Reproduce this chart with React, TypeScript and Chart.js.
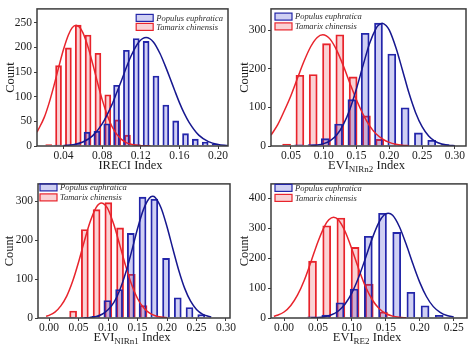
import React, { useEffect, useRef } from "react";
import { Chart, registerables } from "chart.js";

Chart.register(...registerables);

const FONT = "'Liberation Serif', 'Times New Roman', Times, serif";
const seriesNames = ["Populus euphratica", "Tamarix chinensis"];

// ---------- Panel 1: IRECI ----------
const ireciXTicks = [0.04, 0.08, 0.12, 0.16, 0.2];
const ireciYTicks = [0, 50, 100, 150, 200, 250];
const ireciBlueBins = [0.0368, 0.047, 0.0572, 0.0674, 0.0776, 0.0878, 0.098, 0.1082, 0.1184, 0.1286, 0.1388, 0.149, 0.1592, 0.1694, 0.1796, 0.1898, 0.2];
const ireciBlueCounts = [2, 1, 3, 28, 30, 45, 123, 194, 218, 212, 142, 83, 51, 25, 14, 8, 4];
const ireciRedBins = [0.0215, 0.0317, 0.0419, 0.0521, 0.0623, 0.0725, 0.0827, 0.0929, 0.1031, 0.1133];
const ireciRedCounts = [3, 163, 199, 245, 225, 188, 104, 53, 22, 3];
const ireciBlueCurveX = [0.04, 0.05, 0.06, 0.07, 0.08, 0.09, 0.095, 0.1, 0.105, 0.11, 0.118, 0.1255, 0.133, 0.14, 0.145, 0.15, 0.155, 0.16, 0.165, 0.17, 0.18, 0.19, 0.2, 0.21];
const ireciBlueCurveY = [0.8, 2.7, 8.1, 20.6, 44.9, 83.5, 108, 133, 159, 183, 211, 220, 211, 187, 164, 139, 113, 88, 66, 48, 22, 9, 3.1, 0.9];
const ireciRedCurveX = [0.0125, 0.02, 0.025, 0.03, 0.035, 0.04, 0.045, 0.049, 0.053, 0.057, 0.06, 0.065, 0.07, 0.075, 0.08, 0.085, 0.09, 0.095, 0.1, 0.105, 0.11, 0.115, 0.12, 0.13];
const ireciRedCurveY = [28, 58, 87, 122, 160, 196, 225, 240, 245, 240, 230, 203, 168, 130, 94, 64, 40, 24, 13.4, 7, 3.4, 1.6, 0.7, 0.1];

// ---------- Panel 2: EVI NIRn2 ----------
const nirn2XTicks = [0.05, 0.1, 0.15, 0.2, 0.25, 0.3];
const nirn2YTicks = [0, 100, 200, 300];
const nirn2BlueBins = [0.0678, 0.0881, 0.1084, 0.1287, 0.149, 0.1693, 0.1896, 0.2099, 0.2302, 0.2505, 0.2708, 0.2911];
const nirn2BlueCounts = [3, 4, 19, 57, 120, 292, 318, 238, 99, 34, 15, 4];
const nirn2RedBins = [0.0372, 0.0575, 0.0778, 0.0981, 0.1184, 0.1387, 0.159, 0.1793];
const nirn2RedCounts = [5, 183, 185, 265, 288, 179, 78, 17];
const nirn2BlueCurveX = [0.08, 0.09, 0.1, 0.11, 0.12, 0.13, 0.14, 0.15, 0.16, 0.17, 0.18, 0.183, 0.189, 0.195, 0.2, 0.21, 0.22, 0.23, 0.24, 0.25, 0.26, 0.27, 0.28, 0.29, 0.3];
const nirn2BlueCurveY = [0.8, 2.4, 6.1, 14, 29, 56, 96, 149, 209, 266, 305, 312, 318, 312, 300, 255, 197, 137, 87, 50, 26, 12, 5, 1.9, 0.7];
const nirn2RedCurveX = [0.0195, 0.03, 0.04, 0.05, 0.06, 0.07, 0.08, 0.09, 0.0985, 0.104, 0.11, 0.12, 0.13, 0.14, 0.15, 0.16, 0.17, 0.18, 0.19, 0.2, 0.21, 0.22, 0.23];
const nirn2RedCurveY = [28, 56, 92, 131, 176, 220, 257, 281, 288, 285, 276, 247, 207, 162, 119, 82, 52, 31, 18, 9.3, 4.6, 2.1, 0.9];

// ---------- Panel 3: EVI NIRn1 ----------
const nirn1XTicks = [0, 0.05, 0.1, 0.15, 0.2, 0.25, 0.3];
const nirn1YTicks = [0, 100, 200, 300];
const nirn1BlueBins = [0.0451, 0.065, 0.0849, 0.1048, 0.1247, 0.1446, 0.1645, 0.1844, 0.2043, 0.2242, 0.2441, 0.264];
const nirn1BlueCounts = [2, 1, 4, 45, 73, 217, 310, 305, 153, 52, 27, 9];
const nirn1RedBins = [0.0349, 0.0548, 0.0747, 0.0946, 0.1145, 0.1344, 0.1543];
const nirn1RedCounts = [18, 227, 278, 296, 231, 112, 32];
const nirn1BlueCurveX = [0.06, 0.07, 0.08, 0.09, 0.1, 0.11, 0.12, 0.13, 0.14, 0.15, 0.16, 0.17, 0.1755, 0.18, 0.19, 0.2, 0.21, 0.22, 0.23, 0.24, 0.25, 0.26, 0.27, 0.275];
const nirn1BlueCurveY = [0.5, 1.6, 4.1, 9.6, 21, 40, 72, 116, 171, 229, 278, 307, 312, 309, 282, 234, 177, 122, 76, 43, 22, 10, 4.4, 2.8];
const nirn1RedCurveX = [-0.005, 0, 0.01, 0.02, 0.03, 0.04, 0.05, 0.06, 0.07, 0.08, 0.089, 0.095, 0.1, 0.11, 0.12, 0.13, 0.14, 0.15, 0.16, 0.17, 0.18, 0.19, 0.2];
const nirn1RedCurveY = [4.4, 6.8, 15, 31, 56, 94, 143, 198, 248, 284, 295, 290, 279, 239, 187, 133, 86, 50, 27, 13, 5.7, 2.3, 0.8];

// ---------- Panel 4: EVI RE2 ----------
const re2XTicks = [0, 0.05, 0.1, 0.15, 0.2, 0.25];
const re2YTicks = [0, 100, 200, 300, 400];
const re2BlueBins = [0.0465, 0.0674, 0.0883, 0.1092, 0.1301, 0.151, 0.1719, 0.1928, 0.2137, 0.2346];
const re2BlueCounts = [4, 10, 51, 97, 273, 350, 286, 86, 41, 9];
const re2RedBins = [0.0361, 0.057, 0.0779, 0.0988, 0.1197, 0.1406];
const re2RedCounts = [190, 308, 334, 236, 113, 20];
const re2BlueCurveX = [0.04, 0.05, 0.06, 0.07, 0.08, 0.09, 0.1, 0.11, 0.12, 0.13, 0.14, 0.147, 0.1535, 0.16, 0.17, 0.18, 0.19, 0.2, 0.21, 0.22, 0.23, 0.24, 0.25];
const re2BlueCurveY = [0.6, 1.6, 4.4, 10.7, 23.5, 47, 84, 136, 200, 266, 320, 343, 350, 343, 305, 246, 180, 119, 71, 38, 19, 8.3, 3.3];
const re2RedCurveX = [-0.015, -0.01, 0, 0.01, 0.02, 0.03, 0.04, 0.05, 0.06, 0.066, 0.073, 0.08, 0.09, 0.1, 0.11, 0.12, 0.13, 0.14, 0.15, 0.16, 0.17, 0.18];
const re2RedCurveY = [5.7, 9, 20, 42, 77, 127, 190, 255, 308, 328, 337, 328, 289, 230, 164, 105, 61, 32, 15, 6.3, 2.4, 0.8];

// ---------- styles ----------
const BLUE_FILL = "rgba(40, 40, 200, 0.22)";
const BLUE_EDGE = "#2326a8";
const BLUE_LINE = "#16178f";
const RED_FILL = "rgba(232, 30, 40, 0.2)";
const RED_EDGE = "#e8242c";
const RED_LINE = "#e8242c";
const FRAME = "#3c3c3c";
const INK = "#1c1c1c";
const TICK_SIZE = 11.5;
const TITLE_SIZE = 12.5;
const SUB_SIZE = 9;
const LEGEND_SIZE = 8.5;

type LegendDef = { anchor: "left" | "right"; dx: number; dy: number; gap: number };
type PanelDef = {
  id: string;
  left: number; top: number; width: number; height: number;
  yWidth: number; xHeight: number; padTop: number; padRight: number; yTitlePad: number;
  xMin: number; xMax: number; yMax: number;
  xTicks: number[]; yTicks: number[]; barThickness: number;
  blueBins: number[]; blueCounts: number[]; redBins: number[]; redCounts: number[];
  blueCurveX: number[]; blueCurveY: number[]; redCurveX: number[]; redCurveY: number[];
  titleMain: string; titleSub: string; titleRest: string;
  legend: LegendDef;
};

const panels: PanelDef[] = [
  {
    id: "ireci", left: 0, top: 0, width: 237, height: 175,
    yWidth: 37, xHeight: 29, padTop: 5, padRight: 9, yTitlePad: 3.5,
    xMin: 0.0125, xMax: 0.2103, yMax: 278, xTicks: ireciXTicks, yTicks: ireciYTicks, barThickness: 6,
    blueBins: ireciBlueBins, blueCounts: ireciBlueCounts, redBins: ireciRedBins, redCounts: ireciRedCounts,
    blueCurveX: ireciBlueCurveX, blueCurveY: ireciBlueCurveY, redCurveX: ireciRedCurveX, redCurveY: ireciRedCurveY,
    titleMain: "IRECI", titleSub: "", titleRest: " Index",
    legend: { anchor: "right", dx: 5, dy: 9, gap: 9 },
  },
  {
    id: "nirn2", left: 237, top: 0, width: 237, height: 175,
    yWidth: 34, xHeight: 29, padTop: 5, padRight: 8, yTitlePad: 0,
    xMin: 0.0195, xMax: 0.317, yMax: 355, xTicks: nirn2XTicks, yTicks: nirn2YTicks, barThickness: 8,
    blueBins: nirn2BlueBins, blueCounts: nirn2BlueCounts, redBins: nirn2RedBins, redCounts: nirn2RedCounts,
    blueCurveX: nirn2BlueCurveX, blueCurveY: nirn2BlueCurveY, redCurveX: nirn2RedCurveX, redCurveY: nirn2RedCurveY,
    titleMain: "EVI", titleSub: "NIRn2", titleRest: " Index",
    legend: { anchor: "left", dx: 4, dy: 7.7, gap: 9.8 },
  },
  {
    id: "nirn1", left: 0, top: 175, width: 237, height: 174,
    yWidth: 38, xHeight: 31, padTop: 4, padRight: 7, yTitlePad: 2.5,
    xMin: -0.0187, xMax: 0.3068, yMax: 344, xTicks: nirn1XTicks, yTicks: nirn1YTicks, barThickness: 7,
    blueBins: nirn1BlueBins, blueCounts: nirn1BlueCounts, redBins: nirn1RedBins, redCounts: nirn1RedCounts,
    blueCurveX: nirn1BlueCurveX, blueCurveY: nirn1BlueCurveY, redCurveX: nirn1RedCurveX, redCurveY: nirn1RedCurveY,
    titleMain: "EVI", titleSub: "NIRn1", titleRest: " Index",
    legend: { anchor: "left", dx: 2, dy: 3.5, gap: 10 },
  },
  {
    id: "re2", left: 237, top: 175, width: 237, height: 174,
    yWidth: 34, xHeight: 31, padTop: 3, padRight: 7, yTitlePad: 0,
    xMin: -0.0192, xMax: 0.2696, yMax: 448, xTicks: re2XTicks, yTicks: re2YTicks, barThickness: 8,
    blueBins: re2BlueBins, blueCounts: re2BlueCounts, redBins: re2RedBins, redCounts: re2RedCounts,
    blueCurveX: re2BlueCurveX, blueCurveY: re2BlueCurveY, redCurveX: re2RedCurveX, redCurveY: re2RedCurveY,
    titleMain: "EVI", titleSub: "RE2", titleRest: " Index",
    legend: { anchor: "left", dx: 4, dy: 4, gap: 10 },
  },
];

function toXY(xs: number[], ys: number[]) {
  return xs.map((x, i) => ({ x, y: ys[i] }));
}

function makeDecor(p: PanelDef) {
  return {
    id: "decor_" + p.id,
    afterDatasetsDraw(chart: any) {
      const { ctx, chartArea: a } = chart;
      ctx.save();
      ctx.strokeStyle = FRAME;
      ctx.lineWidth = 1.5;
      ctx.strokeRect(a.left, a.top, a.right - a.left, a.bottom - a.top);
      ctx.restore();
    },
    afterDraw(chart: any) {
      const { ctx, chartArea: a } = chart;
      ctx.save();
      // x-axis title with optional subscript
      const big = `${TITLE_SIZE}px ${FONT}`;
      const small = `${SUB_SIZE}px ${FONT}`;
      ctx.fillStyle = INK;
      ctx.textAlign = "left";
      ctx.textBaseline = "alphabetic";
      ctx.font = big;
      const w1 = ctx.measureText(p.titleMain).width;
      const w3 = ctx.measureText(p.titleRest).width;
      ctx.font = small;
      const w2 = p.titleSub ? ctx.measureText(p.titleSub).width : 0;
      let x = (a.left + a.right) / 2 - (w1 + w2 + w3) / 2 - 2;
      const y = a.bottom + 22.5;
      ctx.font = big;
      ctx.fillText(p.titleMain, x, y);
      x += w1;
      if (p.titleSub) {
        ctx.font = small;
        ctx.fillText(p.titleSub, x, y + 3);
        x += w2;
      }
      ctx.font = big;
      ctx.fillText(p.titleRest, x, y);

      // legend
      const L = p.legend;
      ctx.font = `italic ${LEGEND_SIZE}px ${FONT}`;
      const tw = Math.max(...seriesNames.map((s) => ctx.measureText(s).width));
      const boxW = 17;
      const boxH = 7;
      const gapT = 3;
      const bx = L.anchor === "left" ? a.left + L.dx : a.right - L.dx - (boxW + gapT + tw);
      const fills = [BLUE_FILL, RED_FILL];
      const edges = [BLUE_EDGE, RED_EDGE];
      seriesNames.forEach((s, i) => {
        const cy = a.top + L.dy + i * L.gap;
        ctx.fillStyle = fills[i];
        ctx.fillRect(bx, cy - boxH / 2, boxW, boxH);
        ctx.strokeStyle = edges[i];
        ctx.lineWidth = 1.2;
        ctx.strokeRect(bx, cy - boxH / 2, boxW, boxH);
        ctx.fillStyle = "#2a2a2a";
        ctx.textBaseline = "middle";
        ctx.fillText(s, bx + boxW + gapT, cy + 0.5);
      });
      ctx.restore();
    },
  };
}

function HistPanel({ p }: { p: PanelDef }) {
  const ref = useRef<HTMLCanvasElement | null>(null);
  useEffect(() => {
    const canvas = ref.current;
    if (!canvas) return;
    const tickFont = { family: FONT, size: TICK_SIZE };
    const gridOpts = {
      display: true,
      drawOnChartArea: false,
      drawTicks: true,
      tickLength: 3,
      color: FRAME,
      offset: false,
    };
    const chart = new Chart(canvas, {
      type: "bar",
      data: {
        datasets: [
          {
            type: "line",
            label: seriesNames[0] + " fit",
            data: toXY(p.blueCurveX, p.blueCurveY),
            borderColor: BLUE_LINE,
            borderWidth: 1.5,
            pointRadius: 0,
            fill: false,
            cubicInterpolationMode: "monotone",
            xAxisID: "x",
            yAxisID: "y",
            order: 0,
          },
          {
            type: "line",
            label: seriesNames[1] + " fit",
            data: toXY(p.redCurveX, p.redCurveY),
            borderColor: RED_LINE,
            borderWidth: 1.5,
            pointRadius: 0,
            fill: false,
            cubicInterpolationMode: "monotone",
            xAxisID: "x",
            yAxisID: "y",
            order: 1,
          },
          {
            type: "bar",
            label: seriesNames[0],
            data: toXY(p.blueBins, p.blueCounts),
            backgroundColor: BLUE_FILL,
            borderColor: BLUE_EDGE,
            borderWidth: 1.2,
            barThickness: p.barThickness,
            xAxisID: "x",
            yAxisID: "y",
            order: 2,
          },
          {
            type: "bar",
            label: seriesNames[1],
            data: toXY(p.redBins, p.redCounts),
            backgroundColor: RED_FILL,
            borderColor: RED_EDGE,
            borderWidth: 1.2,
            barThickness: p.barThickness,
            xAxisID: "x2",
            yAxisID: "y",
            order: 3,
          },
        ],
      } as any,
      options: {
        animation: false,
        responsive: false,
        devicePixelRatio: 1,
        layout: { padding: { left: 0, top: p.padTop, right: p.padRight, bottom: 0 } },
        plugins: { legend: { display: false }, tooltip: { enabled: false } },
        scales: {
          x: {
            type: "linear",
            position: "bottom",
            min: p.xMin,
            max: p.xMax,
            offset: false,
            afterBuildTicks: (axis: any) => {
              axis.ticks = p.xTicks.map((v) => ({ value: v }));
            },
            afterFit: (axis: any) => {
              axis.height = p.xHeight;
            },
            grid: gridOpts,
            border: { display: false },
            ticks: {
              autoSkip: false,
              maxRotation: 0,
              padding: 0,
              color: INK,
              font: tickFont,
              callback: (v: any) => Number(v).toFixed(2),
            },
            title: { display: false },
          },
          x2: {
            type: "linear",
            position: "bottom",
            display: false,
            min: p.xMin,
            max: p.xMax,
            offset: false,
          },
          y: {
            type: "linear",
            min: 0,
            max: p.yMax,
            afterBuildTicks: (axis: any) => {
              axis.ticks = p.yTicks.map((v) => ({ value: v }));
            },
            afterFit: (axis: any) => {
              axis.width = p.yWidth;
            },
            grid: gridOpts,
            border: { display: false },
            ticks: {
              padding: 2,
              color: INK,
              font: tickFont,
              callback: (v: any) => String(v),
            },
            title: {
              display: true,
              text: "Count",
              color: INK,
              font: { family: FONT, size: TITLE_SIZE },
              padding: { top: p.yTitlePad, bottom: 0 },
            },
          },
        },
      } as any,
      plugins: [makeDecor(p)],
    });
    return () => chart.destroy();
  }, [p]);
  return (
    <canvas
      ref={ref}
      width={p.width}
      height={p.height}
      style={{ position: "absolute", left: p.left, top: p.top, width: p.width, height: p.height }}
    />
  );
}

export default function App() {
  return (
    <div
      style={{
        position: "fixed",
        left: 0,
        top: 0,
        width: 474,
        height: 349,
        background: "#ffffff",
        overflow: "hidden",
      }}
    >
      {panels.map((p) => (
        <HistPanel key={p.id} p={p} />
      ))}
    </div>
  );
}
